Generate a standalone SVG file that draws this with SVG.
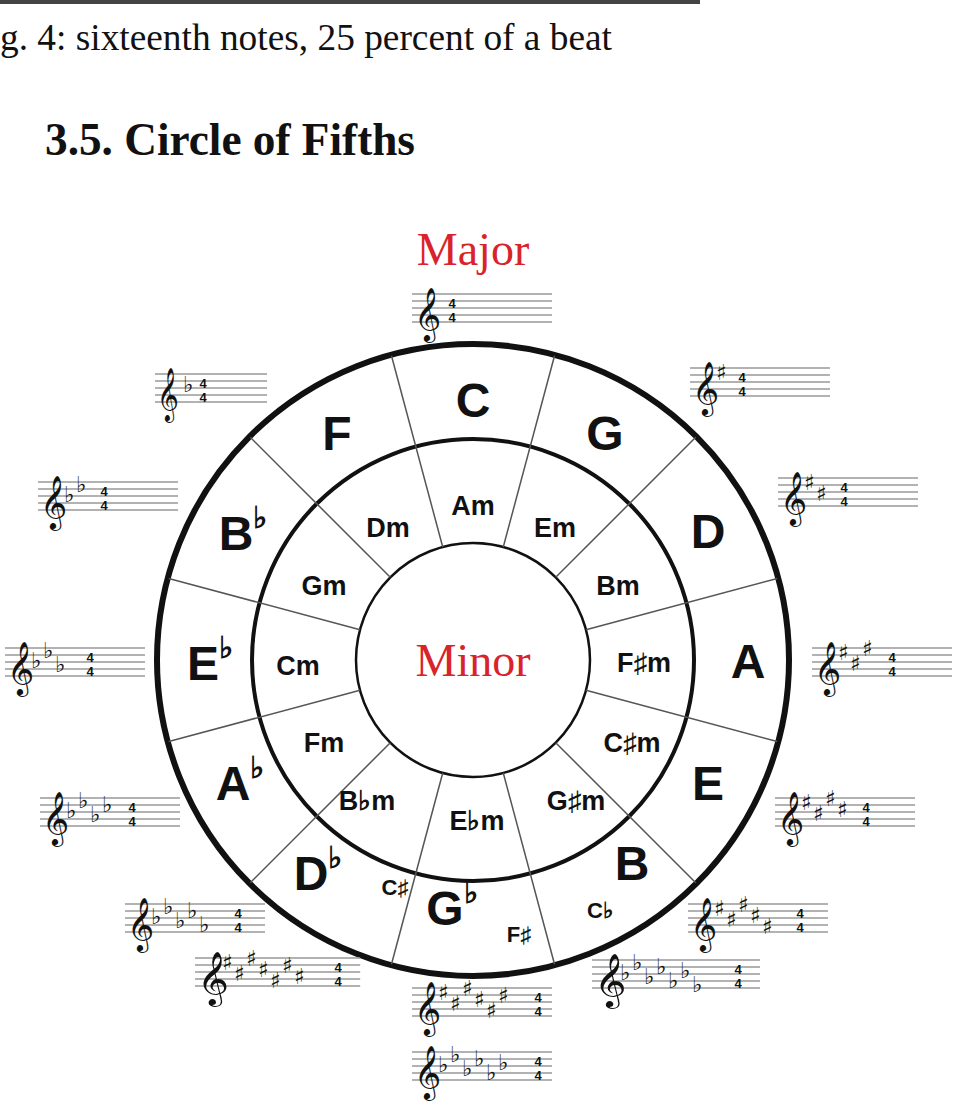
<svg xmlns="http://www.w3.org/2000/svg" xmlns:xlink="http://www.w3.org/1999/xlink" width="962" height="1106" viewBox="0 0 962 1106">
<style>
.maj{font-family:"Liberation Sans",Arial,sans-serif;font-weight:bold;font-size:48px;text-anchor:middle;fill:#111}
.min{font-family:"Liberation Sans",Arial,sans-serif;font-weight:bold;font-size:27px;text-anchor:middle;fill:#111}
.sm{font-family:"Liberation Sans",Arial,sans-serif;font-weight:bold;font-size:22px;text-anchor:middle;fill:#111}
.red{font-family:"Liberation Serif","Times New Roman",serif;font-size:46px;text-anchor:middle;fill:#d9232a}
.clef{font-family:"DejaVu Sans","Noto Sans",sans-serif;font-size:46px;fill:#111}
.acc{font-family:"DejaVu Sans",sans-serif;font-size:22px;fill:#111}
.ts{font-family:"Liberation Sans",sans-serif;font-weight:bold;font-size:13px;fill:#111;text-anchor:middle}
.sl{stroke:#999;stroke-width:1.3}
.spoke{stroke:#555;stroke-width:1.5}
</style>
<defs>
<g id="staff">
<line class="sl" x1="0" y1="0" x2="140" y2="0"/><line class="sl" x1="0" y1="7" x2="140" y2="7"/><line class="sl" x1="0" y1="14" x2="140" y2="14"/><line class="sl" x1="0" y1="21" x2="140" y2="21"/><line class="sl" x1="0" y1="28" x2="140" y2="28"/>
<text class="clef" x="2" y="36">𝄞</text>
</g>
</defs>
<line x1="0" y1="2" x2="700" y2="2" stroke="#444" stroke-width="4"/>
<text x="0" y="50" font-family="Liberation Serif,serif" font-size="38" fill="#111" textLength="612" lengthAdjust="spacingAndGlyphs">g. 4: sixteenth notes, 25 percent of a beat</text>
<text x="45" y="155" font-family="Liberation Serif,serif" font-weight="bold" font-size="46" fill="#111" textLength="370" lengthAdjust="spacingAndGlyphs">3.5. Circle of Fifths</text>
<text class="red" x="473" y="265">Major</text>

<g id="wheel" fill="none" stroke="#111">
<circle cx="473" cy="660" r="316" stroke-width="6"/>
<circle cx="473" cy="660" r="221" stroke-width="4"/>
<circle cx="473" cy="660" r="117" stroke-width="2.5"/>
</g>
<g id="connectors">
<line class="spoke" x1="473" y1="543" x2="473" y2="345" transform="rotate(15 473 660)"/>
<line class="spoke" x1="473" y1="543" x2="473" y2="345" transform="rotate(45 473 660)"/>
<line class="spoke" x1="473" y1="543" x2="473" y2="345" transform="rotate(75 473 660)"/>
<line class="spoke" x1="473" y1="543" x2="473" y2="345" transform="rotate(105 473 660)"/>
<line class="spoke" x1="473" y1="543" x2="473" y2="345" transform="rotate(135 473 660)"/>
<line class="spoke" x1="473" y1="543" x2="473" y2="345" transform="rotate(165 473 660)"/>
<line class="spoke" x1="473" y1="543" x2="473" y2="345" transform="rotate(195 473 660)"/>
<line class="spoke" x1="473" y1="543" x2="473" y2="345" transform="rotate(225 473 660)"/>
<line class="spoke" x1="473" y1="543" x2="473" y2="345" transform="rotate(255 473 660)"/>
<line class="spoke" x1="473" y1="543" x2="473" y2="345" transform="rotate(285 473 660)"/>
<line class="spoke" x1="473" y1="543" x2="473" y2="345" transform="rotate(315 473 660)"/>
<line class="spoke" x1="473" y1="543" x2="473" y2="345" transform="rotate(345 473 660)"/>
</g>

<g id="major-keys">
<text class="maj" x="473" y="417">C</text>
<text class="maj" x="605" y="450">G</text>
<text class="maj" x="708" y="548">D</text>
<text class="maj" x="748" y="678">A</text>
<text class="maj" x="708" y="800">E</text>
<text class="maj" x="632" y="880">B</text>
<text class="maj" x="452" y="925">G<tspan font-size="30" dy="-22">♭</tspan></text>
<text class="maj" x="318" y="890">D<tspan font-size="30" dy="-22">♭</tspan></text>
<text class="maj" x="240" y="800">A<tspan font-size="30" dy="-22">♭</tspan></text>
<text class="maj" x="210" y="680">E<tspan font-size="30" dy="-22">♭</tspan></text>
<text class="maj" x="243" y="550">B<tspan font-size="30" dy="-22">♭</tspan></text>
<text class="maj" x="337" y="450">F</text>
</g>
<g id="minor-keys">
<text class="min" x="473" y="515">Am</text>
<text class="min" x="555" y="537">Em</text>
<text class="min" x="618" y="595">Bm</text>
<text class="min" x="644" y="672">F♯m</text>
<text class="min" x="632" y="752">C♯m</text>
<text class="min" x="576" y="810">G♯m</text>
<text class="min" x="477" y="830">E♭m</text>
<text class="min" x="367" y="810">B♭m</text>
<text class="min" x="324" y="752">Fm</text>
<text class="min" x="298" y="675">Cm</text>
<text class="min" x="324" y="595">Gm</text>
<text class="min" x="388" y="537">Dm</text>
<text class="sm" x="395" y="895">C♯</text>
<text class="sm" x="519" y="942">F♯</text>
<text class="sm" x="600" y="918">C♭</text>
</g>
<text class="red" x="473" y="676">Minor</text>

<g id="staff-C"><use xlink:href="#staff" transform="translate(412,294)"/><text class="ts" x="452" y="308">4</text><text class="ts" x="452" y="322">4</text></g>
<g id="staff-G"><use xlink:href="#staff" transform="translate(690,368)"/><text class="acc" x="716" y="380">♯</text><text class="ts" x="742" y="382">4</text><text class="ts" x="742" y="396">4</text></g>
<g id="staff-D"><use xlink:href="#staff" transform="translate(778,478)"/><text class="acc" x="804" y="490">♯</text><text class="acc" x="816" y="501">♯</text><text class="ts" x="844" y="492">4</text><text class="ts" x="844" y="506">4</text></g>
<g id="staff-A"><use xlink:href="#staff" transform="translate(812,648)"/><text class="acc" x="838" y="660">♯</text><text class="acc" x="850" y="671">♯</text><text class="acc" x="862" y="656">♯</text><text class="ts" x="892" y="662">4</text><text class="ts" x="892" y="676">4</text></g>
<g id="staff-E"><use xlink:href="#staff" transform="translate(775,798)"/><text class="acc" x="801" y="810">♯</text><text class="acc" x="813" y="821">♯</text><text class="acc" x="825" y="806">♯</text><text class="acc" x="837" y="817">♯</text><text class="ts" x="866" y="812">4</text><text class="ts" x="866" y="826">4</text></g>
<g id="staff-B"><use xlink:href="#staff" transform="translate(688,904)"/><text class="acc" x="714" y="916">♯</text><text class="acc" x="726" y="927">♯</text><text class="acc" x="738" y="912">♯</text><text class="acc" x="750" y="923">♯</text><text class="acc" x="762" y="934">♯</text><text class="ts" x="800" y="918">4</text><text class="ts" x="800" y="932">4</text></g>
<g id="staff-Cb"><use xlink:href="#staff" transform="matrix(1.2,0,0,1,592,960)"/><text class="acc" x="620" y="980">♭</text><text class="acc" x="632" y="970">♭</text><text class="acc" x="644" y="984">♭</text><text class="acc" x="656" y="974">♭</text><text class="acc" x="668" y="988">♭</text><text class="acc" x="680" y="978">♭</text><text class="acc" x="692" y="992">♭</text><text class="ts" x="738" y="974">4</text><text class="ts" x="738" y="988">4</text></g>
<g id="staff-Fs"><use xlink:href="#staff" transform="translate(412,988)"/><text class="acc" x="438" y="1000">♯</text><text class="acc" x="450" y="1011">♯</text><text class="acc" x="462" y="996">♯</text><text class="acc" x="474" y="1007">♯</text><text class="acc" x="486" y="1018">♯</text><text class="acc" x="498" y="1003">♯</text><text class="ts" x="538" y="1002">4</text><text class="ts" x="538" y="1016">4</text></g>
<g id="staff-Gb"><use xlink:href="#staff" transform="translate(412,1052)"/><text class="acc" x="438" y="1072">♭</text><text class="acc" x="450" y="1062">♭</text><text class="acc" x="462" y="1076">♭</text><text class="acc" x="474" y="1066">♭</text><text class="acc" x="486" y="1080">♭</text><text class="acc" x="498" y="1070">♭</text><text class="ts" x="538" y="1066">4</text><text class="ts" x="538" y="1080">4</text></g>
<g id="staff-Cs"><use xlink:href="#staff" transform="matrix(1.18,0,0,1,195,958)"/><text class="acc" x="222" y="970">♯</text><text class="acc" x="234" y="981">♯</text><text class="acc" x="246" y="966">♯</text><text class="acc" x="258" y="977">♯</text><text class="acc" x="270" y="988">♯</text><text class="acc" x="282" y="973">♯</text><text class="acc" x="294" y="984">♯</text><text class="ts" x="338" y="972">4</text><text class="ts" x="338" y="986">4</text></g>
<g id="staff-Db"><use xlink:href="#staff" transform="translate(125,904)"/><text class="acc" x="151" y="924">♭</text><text class="acc" x="163" y="914">♭</text><text class="acc" x="175" y="928">♭</text><text class="acc" x="187" y="918">♭</text><text class="acc" x="199" y="932">♭</text><text class="ts" x="238" y="918">4</text><text class="ts" x="238" y="932">4</text></g>
<g id="staff-Ab"><use xlink:href="#staff" transform="translate(40,798)"/><text class="acc" x="66" y="818">♭</text><text class="acc" x="78" y="808">♭</text><text class="acc" x="90" y="822">♭</text><text class="acc" x="102" y="812">♭</text><text class="ts" x="132" y="812">4</text><text class="ts" x="132" y="826">4</text></g>
<g id="staff-Eb"><use xlink:href="#staff" transform="translate(5,648)"/><text class="acc" x="31" y="668">♭</text><text class="acc" x="43" y="658">♭</text><text class="acc" x="55" y="672">♭</text><text class="ts" x="90" y="662">4</text><text class="ts" x="90" y="676">4</text></g>
<g id="staff-Bb"><use xlink:href="#staff" transform="translate(38,482)"/><text class="acc" x="64" y="502">♭</text><text class="acc" x="76" y="492">♭</text><text class="ts" x="104" y="496">4</text><text class="ts" x="104" y="510">4</text></g>
<g id="staff-F"><use xlink:href="#staff" transform="matrix(0.8,0,0,1,155,374)"/><text class="acc" x="183" y="392">♭</text><text class="ts" x="203" y="388">4</text><text class="ts" x="203" y="402">4</text></g>
</svg>
